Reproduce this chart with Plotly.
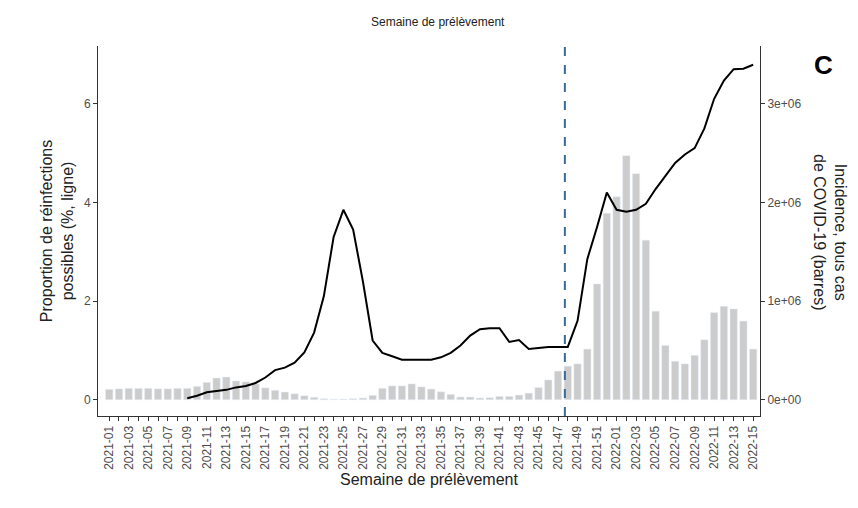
import plotly.graph_objects as go

weeks = [f"2021-{i:02d}" for i in range(1, 53)] + [f"2022-{i:02d}" for i in range(1, 16)]
incidence = [0.105e6,0.11e6,0.115e6,0.115e6,0.115e6,0.11e6,0.11e6,0.115e6,0.115e6,0.135e6,
             0.175e6,0.22e6,0.23e6,0.19e6,0.18e6,0.16e6,0.12e6,0.095e6,0.078e6,0.06e6,
             0.04e6,0.024e6,0.01e6,0.005e6,0.006e6,0.01e6,0.017e6,0.044e6,0.115e6,0.14e6,
             0.14e6,0.16e6,0.13e6,0.108e6,0.08e6,0.054e6,0.027e6,0.027e6,0.017e6,0.02e6,
             0.033e6,0.033e6,0.047e6,0.067e6,0.123e6,0.2e6,0.29e6,0.34e6,0.363e6,0.513e6,
             1.173e6,1.89e6,2.057e6,2.473e6,2.29e6,1.617e6,0.897e6,0.55e6,0.39e6,0.363e6,
             0.45e6,0.607e6,0.883e6,0.947e6,0.92e6,0.797e6,0.513e6]
reinf_start = 8
reinfection = [0.03,0.08,0.15,0.17,0.2,0.25,0.28,0.34,0.45,0.6,0.65,0.75,0.96,1.36,2.1,3.3,3.85,
               3.45,2.4,1.2,0.95,0.88,0.81,0.81,0.81,0.81,0.86,0.95,1.1,1.3,1.43,1.45,1.45,1.17,
               1.21,1.03,1.05,1.07,1.07,1.07,1.6,2.85,3.5,4.2,3.85,3.81,3.85,3.97,4.27,4.53,4.8,
               4.97,5.1,5.5,6.1,6.47,6.7,6.71,6.79]
vline_pos = 46.7
left_ticks = [0, 2, 4, 6]
right_ticks = [0, 1e6, 2e6, 3e6]
right_labels = ["0e+00", "1e+06", "2e+06", "3e+06"]

W, H = 858, 508
L, R, T, B = 90, 106, 38, 100
pw, ph = W - L - R, H - T - B

idx = list(range(len(weeks)))
fig = go.Figure()
fig.add_trace(go.Bar(x=idx, y=incidence, marker_color="#cccccc", width=0.75, yaxis="y", showlegend=False))
fig.add_trace(go.Scatter(x=idx[reinf_start:reinf_start+len(reinfection)], y=reinfection, mode="lines",
                         yaxis="y2", line=dict(color="black", width=2), showlegend=False))
fig.add_shape(type="line", x0=vline_pos, x1=vline_pos, y0=0, y1=1, yref="paper", xref="x",
              line=dict(color="#3a6a98", width=2, dash="dash"))
ticktext = [w if i % 2 == 0 else "" for i, w in enumerate(weeks)]
tf = dict(family="Liberation Sans, Arial", size=12, color="#4d4d4d")
titlef = dict(family="Liberation Sans, Arial", size=16, color="#222")
axis_common = dict(showline=True, linecolor="#333", ticks="outside", ticklen=4, tickcolor="#333",
                   tickfont=tf, showgrid=False, zeroline=False, automargin=False)
fig.update_layout(
    width=W, height=H, margin=dict(l=L, r=R, t=T, b=B),
    plot_bgcolor="white", paper_bgcolor="white",
    xaxis=dict(tickvals=idx, ticktext=ticktext, tickangle=-90, range=[-1.15, 66.7],
               title=dict(text="Semaine de prélèvement", font=titlef, standoff=4), **axis_common),
    yaxis=dict(side="right", range=[-0.33*5e5, 7.17*5e5], tickvals=right_ticks, ticktext=right_labels,
               **axis_common),
    yaxis2=dict(overlaying="y", side="left", range=[-0.33, 7.17], tickvals=left_ticks,
                title=dict(text="Proportion de réinfections<br>possibles (%, ligne)", font=titlef, standoff=6),
                **axis_common),
    annotations=[
        dict(text="<b>C</b>", x=(815-L)/pw, y=1-(57-T)/ph, xref="paper", yref="paper", showarrow=False,
             xanchor="center", yanchor="middle",
             font=dict(family="Liberation Sans, Arial", size=26, color="black")),
        dict(text="Semaine de prélèvement", x=(430-L)/pw, y=1+(T-14)/ph, xref="paper", yref="paper",
             showarrow=False, yanchor="middle",
             font=dict(family="Liberation Sans, Arial", size=12, color="#222")),
        dict(text="Incidence, tous cas<br>de COVID-19 (barres)", x=(822-L)/pw, y=1-(225-T)/ph,
             xref="paper", yref="paper", showarrow=False, textangle=90,
             xanchor="center", yanchor="middle", font=titlef),
    ],
)
fig.write_html("out.html")
